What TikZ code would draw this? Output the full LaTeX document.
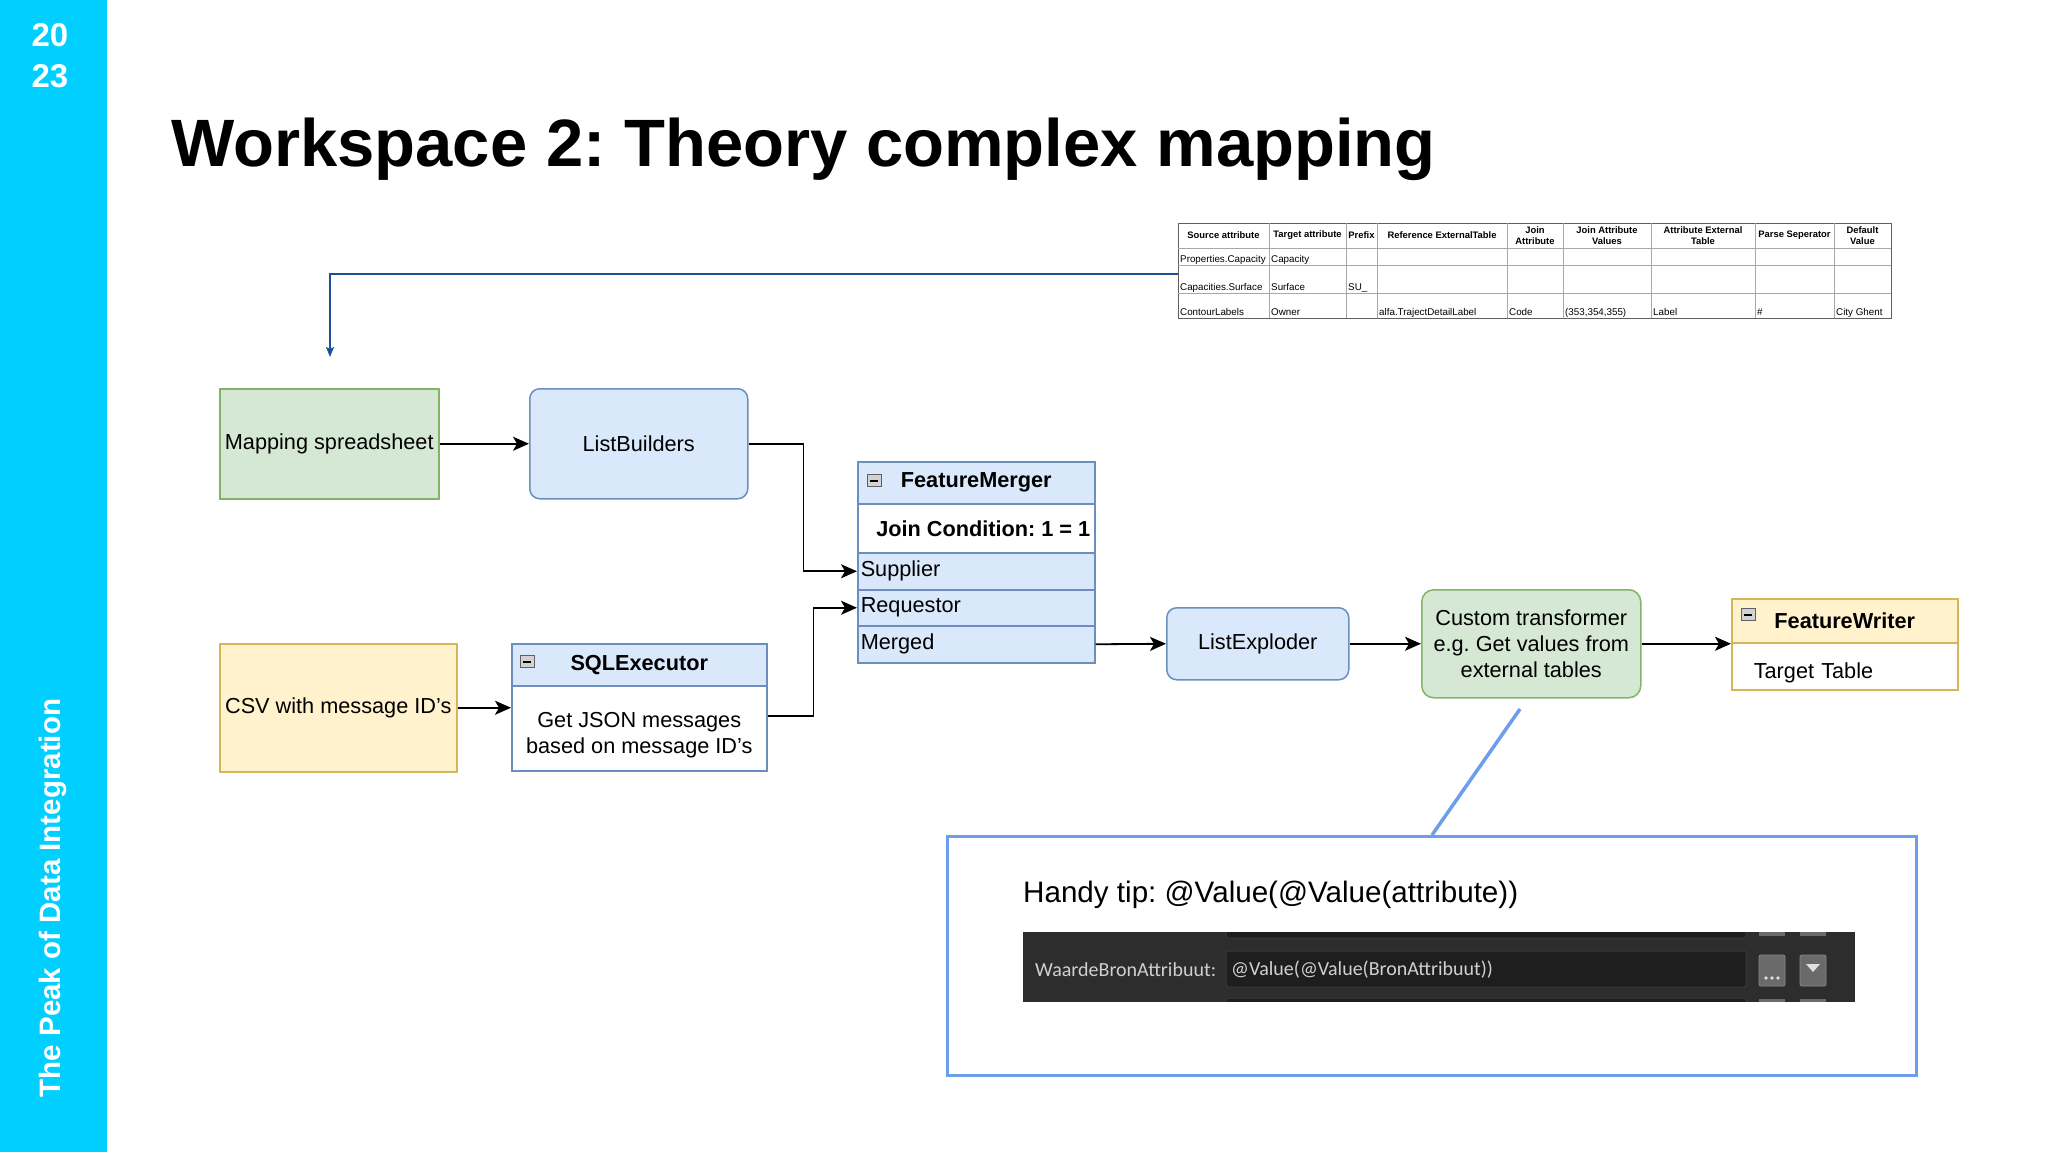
\documentclass[tikz,border=0pt]{standalone}
\usepackage{fontspec}
\setmainfont{Liberation Sans}
\newfontfamily\shotfont{Carlito}
\usetikzlibrary{arrows.meta,positioning,calc}
\definecolor{side}{HTML}{00CFFF}
\definecolor{gfill}{HTML}{D5E8D4}
\definecolor{gline}{HTML}{82B366}
\definecolor{bfill}{HTML}{DAE8FC}
\definecolor{bline}{HTML}{6C8EBF}
\definecolor{yfill}{HTML}{FFF2CC}
\definecolor{yline}{HTML}{D6B656}
\definecolor{tipblue}{HTML}{6D9EEB}
\definecolor{linkblue}{HTML}{1F4E99}
\definecolor{tblline}{HTML}{A8A8A8}
\definecolor{tblborder}{HTML}{606060}
\definecolor{shot}{HTML}{2D2D2D}
\definecolor{field}{HTML}{1E1E1E}
\definecolor{shottext}{HTML}{D0D0D0}
\definecolor{btn}{HTML}{6A6A6A}
\newcommand\boxfont{\fontsize{21.7}{26}\selectfont}
\newcommand\tblfont{\fontsize{9.8}{11}\selectfont}
\tikzset{arr/.style={-{Stealth[length=16pt,width=14pt,inset=4pt]},line width=1.8pt},
  box/.style={draw,line width=1.5pt,anchor=north west,inner sep=0pt,align=center,font=\boxfont},
  greenbox/.style={box,fill=gfill,draw=gline},
  yellowbox/.style={box,fill=yfill,draw=yline},
  bluebox/.style={box,fill=bfill,draw=bline,rounded corners=10pt},
  headbox/.style={box,font=\boxfont\bfseries},
  rowbox/.style={box,fill=bfill,draw=bline,text width=231pt,align=left,inner xsep=3pt},
  tblhead/.style={inner sep=0pt,align=center,font=\fontsize{9.4}{11}\selectfont\bfseries},
  tblcell/.style={inner sep=0pt,anchor=base west,font=\tblfont},
  shotbtn/.style={fill=btn,draw=btn!80!white,rounded corners=2pt,line width=0.8pt},
  minusicon/.pic={\draw[fill=gray!35,draw=gray!75!black,line width=0.8pt] (-7,-6) rectangle (7,6);
    \draw[line width=1.6pt] (-4,0) -- (4,0);}}

\begin{document}
\frenchspacing
\begin{tikzpicture}[x=1pt,y=-1pt]
\useasboundingbox (0,0) rectangle (2048,1152);
\fill[side] (0,0) rectangle (107,1152);
\node[text=white,font=\fontsize{33}{36}\selectfont\bfseries] (yearTop) at (50,35) {20};
\node[text=white,font=\fontsize{33}{36}\selectfont\bfseries] (yearBot) at (50,76) {23};
\node[text=white,rotate=90,font=\fontsize{29.5}{32}\selectfont\bfseries] (tagline) at (53,898) {The Peak of Data Integration};
\node[anchor=base west,inner sep=0pt,font=\fontsize{67}{72}\selectfont\bfseries] (title) at (171,166) {Workspace 2: Theory complex mapping};

\node[draw=tblborder,line width=1.2pt,anchor=north west,minimum width=713pt,minimum height=95pt,inner sep=0pt] (mapTable) at (1178,223) {};
\foreach \x in {1269,1346,1377,1507,1563,1651,1755,1834} \draw[tblline,line width=0.9pt] (\x,223) -- (\x,318);
\foreach \y in {248,265,293} \draw[tblline,line width=0.9pt] (1178,\y) -- (1891,\y);
\foreach \a/\b/\t in {1178/1269/Source attribute,1269/1346/Target attribute,1346/1377/Prefix,1377/1507/Reference ExternalTable,1507/1563/{Join\\Attribute},1563/1651/{Join Attribute\\Values},1651/1755/{Attribute External\\Table},1755/1834/Parse Seperator,1834/1891/{Default\\Value}}
  \node[tblhead] (head-\a) at ({(\a+\b)/2},235.5) {\t};
\foreach \x/\y/\t in {1178/262/Properties.Capacity,1269/262/Capacity,1178/290/Capacities.Surface,1269/290/Surface,1346/290/SU\_,1178/315/ContourLabels,1269/315/Owner,1377/315/alfa.TrajectDetailLabel,1507/315/Code,1563/315/{(353,354,355)},1651/315/Label,1755/315/\#,1834/315/City Ghent}
  \node[tblcell] (cell-\x-\y) at (\x+2,\y) {\t};
\coordinate (sheetIn) at (330,357);
\draw[linkblue,line width=1.5pt,-{Stealth[length=10pt,width=8pt,inset=2pt]}] ([yshift=-3pt]mapTable.west) -| (sheetIn);

\node[greenbox,minimum width=219pt,minimum height=110pt] (sheet) at (219,388) {Mapping spreadsheet};
\node[bluebox,minimum width=218pt,minimum height=110pt] (builders) at (529,388) {ListBuilders};
\node[yellowbox,minimum width=237pt,minimum height=128pt] (csv) at (219,643) {CSV with message ID's};

\node[headbox,fill=bfill,draw=bline,minimum width=255pt,minimum height=42pt] (sqlHead) at (511,643) {SQLExecutor};
\node[box,fill=white,draw=bline,minimum width=255pt,minimum height=85pt] (sqlBody) at (511,685) {};
\node[align=center,inner sep=0pt,font=\boxfont] (sqlText) at ([yshift=-7pt]sqlBody.center) {Get JSON messages\\based on message ID's};
\pic at ([xshift=16pt,yshift=3pt]sqlHead.west) {minusicon};

\node[headbox,fill=bfill,draw=bline,minimum width=237pt,minimum height=42pt] (fmHead) at (857,461) {FeatureMerger};
\node[headbox,fill=white,draw=bline,minimum width=237pt,minimum height=49pt] (fmJoin) at (857,503) {\hspace*{14pt}Join Condition: 1 = 1};
\node[rowbox,minimum height=37pt] (fmSup) at (857,552) {Supplier};
\node[rowbox,minimum height=36pt] (fmReq) at (857,589) {Requestor};
\node[rowbox,minimum height=37pt] (fmMerged) at (857,625) {Merged};
\pic at ([xshift=17pt,yshift=2pt]fmHead.west) {minusicon};

\node[bluebox,minimum width=182pt,minimum height=72pt] (explode) at (1166,607) {ListExploder};
\node[greenbox,rounded corners=12pt,minimum width=219pt,minimum height=108pt] (custom) at (1421,589) {Custom transformer\\e.g. Get values from\\external tables};
\node[headbox,fill=yfill,draw=yline,minimum width=226pt,minimum height=44pt] (fwHead) at (1731,598) {FeatureWriter};
\node[box,fill=white,draw=yline,minimum width=226pt,minimum height=47pt,text width=182pt,align=left,inner xsep=22pt,text height=25pt,text depth=0pt] (fwBody) at (1731,642) {Target Table};
\pic at ([xshift=17pt,yshift=6pt]fwHead.west) {minusicon};

\draw[arr] (sheet) -- (builders);
\draw[arr] (builders.east) -- ++(55,0) |- (fmSup.west);
\draw[arr] (csv.east) -- (csv.east -| sqlBody.west);
\draw[arr] ([yshift=12pt]sqlBody.east) -- ++(46,0) |- (fmReq.west);
\draw[arr] (fmMerged.east) -- (explode.west);
\draw[arr] (explode) -- (custom);
\draw[arr] (custom.east) -- (custom.east -| fwHead.west);

\node[draw=tipblue,line width=3pt,anchor=north west,minimum width=969pt,minimum height=239pt,inner sep=0pt] (tipBox) at (946,835) {};
\coordinate (tipFrom) at (1520,709);
\draw[tipblue,line width=3.5pt] (tipFrom) -- (tipBox.north);
\node[anchor=west,inner sep=0pt,font=\fontsize{29.6}{34}\selectfont] (tipText) at (1023,895) {Handy tip: @Value(@Value(attribute))};

\node[fill=shot,anchor=north west,minimum width=832pt,minimum height=70pt,inner sep=0pt] (tipShot) at (1023,932) {};
\draw[fill=field,draw=gray!45!black,line width=1pt,rounded corners=2pt] (1226,926) rectangle (1746,938);
\draw[fill=field,draw=gray!45!black,line width=1pt,rounded corners=2pt] (1226,998) rectangle (1746,1010);
\fill[white] (1023,912) rectangle (1855,932);
\fill[white] (1023,1002) rectangle (1855,1020);
\draw[fill=field,draw=gray!45!black,line width=1pt,rounded corners=2pt] (1226,951) rectangle (1746,987);
\draw[shotbtn] (1759,955) rectangle (1785,986);
\draw[shotbtn] (1800,955) rectangle (1826,986);
\fill[btn] (1759,932) rectangle (1785,936);
\fill[btn] (1800,932) rectangle (1826,936);
\fill[btn] (1759,999) rectangle (1785,1002);
\fill[btn] (1800,999) rectangle (1826,1002);
\fill[white!75!gray] (1806,964) -- (1820,964) -- (1813,972) -- cycle;
\foreach \d in {1766,1772,1778} \fill[white!75!gray] (\d,978) circle (1.8);
\node[anchor=west,inner sep=0pt,text=shottext,font=\shotfont\fontsize{20}{22}\selectfont] (shotLabel) at (1035,970) {WaardeBronAttribuut:};
\node[anchor=west,inner sep=0pt,text=shottext,font=\shotfont\fontsize{20}{22}\selectfont] (shotValue) at (1231,970) {@Value(@Value(BronAttribuut))};
\end{tikzpicture}
\end{document}
